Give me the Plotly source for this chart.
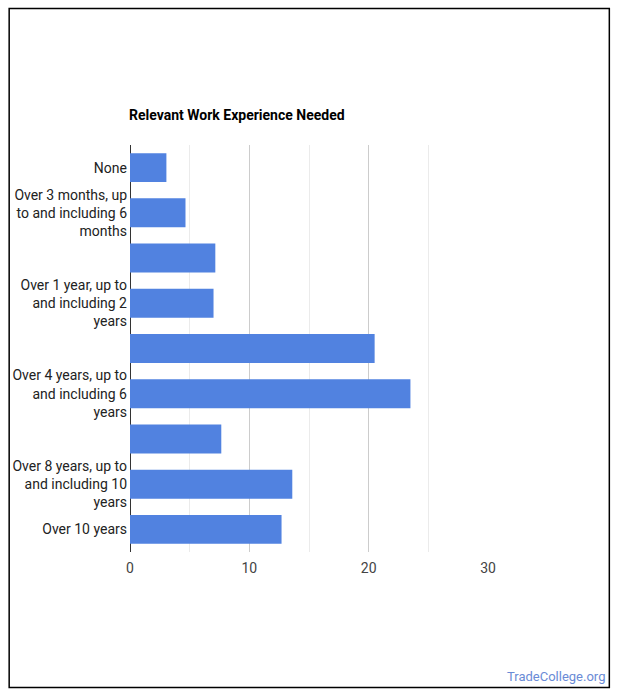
import plotly.graph_objects as go

categories = [
    "None",
    "Over 3 months, up to and including 6 months",
    "Over 6 months, up to and including 1 year",
    "Over 1 year, up to and including 2 years",
    "Over 2 years, up to and including 4 years",
    "Over 4 years, up to and including 6 years",
    "Over 6 years, up to and including 8 years",
    "Over 8 years, up to and including 10 years",
    "Over 10 years",
]
values = [3.05, 4.65, 7.15, 7.0, 20.5, 23.5, 7.65, 13.6, 12.7]
tick_labels = [
    "None",
    "Over 3 months, up<br>to and including 6<br>months",
    "",
    "Over 1 year, up to<br>and including 2<br>years",
    "",
    "Over 4 years, up to<br>and including 6<br>years",
    "",
    "Over 8 years, up to<br>and including 10<br>years",
    "Over 10 years",
]
x_ticks = [0, 10, 20, 30]

W, H = 620, 698
L, R, T, B = 129.5, 488, 145, 552

def px_x(p):
    return (p - L) / (R - L)

def px_y(p):
    return (B - p) / (B - T)

fig = go.Figure(
    go.Bar(
        x=values,
        y=categories,
        orientation="h",
        marker=dict(color="#5182e0", line=dict(width=0)),
        width=0.64,
        hoverinfo="x+y",
    )
)

fig.update_layout(
    width=W,
    height=H,
    margin=dict(l=L, r=W - R, t=T, b=H - B, pad=0),
    paper_bgcolor="white",
    plot_bgcolor="white",
    showlegend=False,
    font=dict(family="Roboto, Arial, sans-serif", size=14, color="#222222"),
    xaxis=dict(
        range=[0, 30],
        tickvals=x_ticks,
        ticktext=[str(v) for v in x_ticks],
        showgrid=True,
        gridcolor="#cccccc",
        gridwidth=1,
        zeroline=True,
        zerolinecolor="#333333",
        zerolinewidth=1,
        showline=False,
        ticks="",
        tickfont=dict(size=14, color="#444444"),
        ticklabelstandoff=6,
        minor=dict(dtick=5, showgrid=True, gridcolor="#ebebeb", gridwidth=1),
        fixedrange=True,
    ),
    yaxis=dict(
        categoryorder="array",
        categoryarray=categories,
        tickvals=categories,
        ticktext=tick_labels,
        range=[len(categories) - 0.5, -0.5],
        showgrid=False,
        zeroline=False,
        showline=False,
        ticks="",
        ticklabelstandoff=2,
        tickfont=dict(size=14, color="#222222"),
        fixedrange=True,
    ),
    annotations=[
        dict(
            text="<b>Relevant Work Experience Needed</b>",
            xref="paper", yref="paper",
            x=px_x(126), y=px_y(115),
            xanchor="left", yanchor="middle",
            showarrow=False,
            font=dict(size=14, color="#000000"),
        ),
        dict(
            text="TradeCollege.org",
            xref="paper", yref="paper",
            x=px_x(607), y=px_y(676),
            xanchor="right", yanchor="middle",
            showarrow=False,
            font=dict(size=13, color="#6a8bd6"),
        ),
    ],
    shapes=[
        dict(
            type="rect",
            xref="paper", yref="paper",
            x0=px_x(8.5), x1=px_x(609.5),
            y0=px_y(687.5), y1=px_y(8.5),
            line=dict(color="#000000", width=1.5),
            fillcolor="rgba(0,0,0,0)",
            layer="below",
        )
    ],
)

fig.write_html("out.html", config=dict(displayModeBar=False))
